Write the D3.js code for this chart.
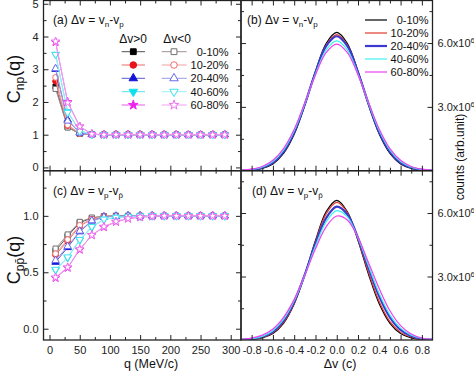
<!DOCTYPE html>
<html><head><meta charset="utf-8">
<script src="https://cdn.jsdelivr.net/npm/d3@7"></script>
<style>
body{margin:0;background:#fff;}
svg{display:block;font-family:"Liberation Sans",Arial,sans-serif;}
</style></head><body>
<svg id="c" width="474" height="371"></svg>
<script>
// ---------------- DATA ----------------
const qValues = [10,30,50,70,90,110,130,150,170,190,210,230,250,270,290];
const centralities = ["0-10%","10-20%","20-40%","40-60%","60-80%"];

// (a) C_np(q), dv>0 (filled) and dv<0 (open)
const cnpPos = [
  [2.47,1.23,1.03,1.01,1,1,1,1,1,1,1,1,1,1,1],
  [2.63,1.28,1.04,1.01,1,1,1,1,1,1,1,1,1,1,1],
  [3.00,1.45,1.06,1.01,1,1,1,1,1,1,1,1,1,1,1],
  [3.45,1.70,1.12,1.01,1,1,1,1,1,1,1,1,1,1,1],
  [3.83,2.00,1.25,1.02,1,1,1,1,1,1,1,1,1,1,1]
];
const cnpNeg = [
  [2.40,1.22,1.03,1.01,1,1,1,1,1,1,1,1,1,1,1],
  [2.75,1.30,1.04,1.01,1,1,1,1,1,1,1,1,1,1,1],
  [3.02,1.42,1.06,1.01,1,1,1,1,1,1,1,1,1,1,1],
  [3.45,1.68,1.11,1.01,1,1,1,1,1,1,1,1,1,1,1],
  [3.85,1.98,1.25,1.02,1,1,1,1,1,1,1,1,1,1,1]
];
// (c) C_ppbar(q)
const cppPos = [
  [0.690,0.820,0.940,0.980,0.995,1.000,1,1,1,1,1,1,1,1,1],
  [0.655,0.775,0.910,0.970,0.993,0.998,1,1,1,1,1,1,1,1,1],
  [0.590,0.720,0.860,0.955,0.990,0.997,1,1,1,1,1,1,1,1,1],
  [0.520,0.630,0.785,0.900,0.968,0.985,0.993,0.998,1,1,1,1,1,1,1],
  [0.450,0.540,0.700,0.830,0.900,0.947,0.975,0.988,0.995,1,1,1,1,1,1]
];
const cppNeg = [
  [0.710,0.835,0.947,0.985,0.997,1.000,1,1,1,1,1,1,1,1,1],
  [0.665,0.790,0.917,0.972,0.994,0.998,1,1,1,1,1,1,1,1,1],
  [0.605,0.730,0.865,0.957,0.990,0.997,1,1,1,1,1,1,1,1,1],
  [0.525,0.635,0.790,0.905,0.970,0.987,0.994,0.998,1,1,1,1,1,1,1],
  [0.455,0.545,0.705,0.830,0.905,0.950,0.977,0.990,0.996,1,1,1,1,1,1]
];

// (b),(d) counts in units of 10^6
const dvValues = [-0.9,-0.8,-0.7,-0.6,-0.5,-0.4,-0.3,-0.2,-0.1,0,0.1,0.2,0.3,0.4,0.5,0.6,0.7,0.8,0.9];
const countsNP = [
  [0.01,0.03,0.11,0.32,0.81,1.71,3.07,4.66,5.98,6.50,5.98,4.66,3.07,1.71,0.81,0.32,0.11,0.03,0.01],
  [0.01,0.04,0.13,0.36,0.87,1.78,3.11,4.65,5.91,6.40,5.91,4.65,3.11,1.78,0.87,0.36,0.13,0.04,0.01],
  [0.01,0.04,0.14,0.38,0.90,1.81,3.13,4.62,5.85,6.32,5.85,4.62,3.13,1.81,0.90,0.38,0.14,0.04,0.01],
  [0.02,0.06,0.17,0.43,0.97,1.88,3.15,4.55,5.67,6.10,5.67,4.55,3.15,1.88,0.97,0.43,0.17,0.06,0.02],
  [0.02,0.07,0.20,0.49,1.04,1.95,3.18,4.50,5.55,5.95,5.55,4.50,3.18,1.95,1.04,0.49,0.20,0.07,0.02]
];
const countsPPbar = [
  [0.01,0.03,0.10,0.31,0.79,1.70,3.08,4.70,6.06,6.60,6.06,4.70,3.08,1.70,0.79,0.31,0.10,0.03,0.01],
  [0.01,0.03,0.12,0.34,0.83,1.74,3.08,4.65,5.96,6.50,6.02,4.74,3.17,1.81,0.87,0.36,0.13,0.04,0.01],
  [0.01,0.05,0.15,0.40,0.92,1.82,3.10,4.55,5.76,6.30,5.93,4.82,3.38,2.05,1.07,0.48,0.19,0.06,0.02],
  [0.02,0.06,0.17,0.44,0.97,1.85,3.07,4.44,5.58,6.11,5.82,4.82,3.48,2.18,1.19,0.56,0.23,0.08,0.03],
  [0.03,0.09,0.23,0.52,1.07,1.92,3.07,4.31,5.35,5.86,5.67,4.84,3.64,2.42,1.38,0.68,0.28,0.09,0.03]
];

const qTicks = [0,50,100,150,200,250,300];
const qMinor = [25,75,125,175,225,275];
const dvTicks = [-0.8,-0.6,-0.4,-0.2,0,0.2,0.4,0.6,0.8];
const dvMinor = [-0.7,-0.5,-0.3,-0.1,0.1,0.3,0.5,0.7];
const cnpTicks = [0,1,2,3,4,5];
const cnpMinor = [0.5,1.5,2.5,3.5,4.5];
const cppTicks = [0,0.5,1.0];
const cppMinor = [0.25,0.75,1.25];
const countTicks = [3,6];
const countMinor = [1.5,4.5,7.5];

// ---------------- STYLE ----------------
const fillCol = ["#000000","#e8141a","#1515d8","#10e0ee","#ee22ee"];
const fillLine = ["#505050","#e86a6a","#5a5ac8","#50e4ee","#e85ae8"];
const openCol = ["#707070","#f06a6a","#6a6af0","#40e0f0","#f070f0"];
const openLine = ["#a09090","#f0a0a0","#9a9ae6","#98f0f6","#f0a0f0"];
const curveCol = ["#000000","#e03a30","#3a3ad0","#40f0f0","#f040f0"];
const curveW = [1.2,1.2,2.2,1.2,1.2];
const symTypes = [d3.symbolSquare,d3.symbolCircle,d3.symbolTriangle,d3.symbolTriangle,d3.symbolStar];
const symSize = [26,26,24,24,22];
const symRot = [0,0,0,180,0];

const svg = d3.select("#c");
const L=43.5, M=241, R=432.5, T=0.5, H=170.7, B=340;
const ink = "#222";

const xQ = d3.scaleLinear().domain([-10,317]).range([L,M]);
const xDv = d3.scaleLinear().domain([-0.9,0.9]).range([M,R]);
const yA = d3.scaleLinear().domain([-0.1,5.1]).range([H,T]);
const yC = d3.scaleLinear().domain([-0.1,1.4]).range([B,H]);
const yB = d3.scaleLinear().domain([0,8]).range([H,T]);
const yD = d3.scaleLinear().domain([0,8]).range([B,H]);

function axisPair(axisFn, scale, major, minor, transform, fmt, pad) {
  const gm = svg.append("g").attr("transform", transform)
    .call(axisFn(scale).tickValues(major).tickSize(-5).tickPadding(pad||5).tickFormat(fmt || (()=>"")));
  gm.select(".domain").remove();
  gm.attr("font-size", 11).attr("font-family", null).attr("color", ink);
  const gn = svg.append("g").attr("transform", transform)
    .call(axisFn(scale).tickValues(minor).tickSize(-3).tickFormat(()=>""));
  gn.select(".domain").remove();
  gn.attr("color", ink);
  return gm;
}

// ---- clip paths
const defs = svg.append("defs");
defs.append("clipPath").attr("id","clipB").append("rect").attr("x",M).attr("y",T).attr("width",R-M).attr("height",H-T);
defs.append("clipPath").attr("id","clipD").append("rect").attr("x",M).attr("y",H).attr("width",R-M).attr("height",B-H);

// ---- scatter panels
function drawScatter(posData, negData, yScale) {
  const line = d3.line().x((d,i)=>xQ(qValues[i])).y(d=>yScale(d));
  for (let s=0; s<5; s++) {
    [[posData[s], true],[negData[s], false]].forEach(([vals, filled]) => {
      const g = svg.append("g");
      g.append("path").attr("d", line(vals)).attr("fill","none")
        .attr("stroke", filled ? fillLine[s] : openLine[s]).attr("stroke-width",1);
      const sym = d3.symbol().type(symTypes[s]).size(symSize[s]);
      g.selectAll("path.m").data(vals).join("path").attr("class","m")
        .attr("d", sym)
        .attr("transform",(d,i)=>`translate(${xQ(qValues[i])},${yScale(d)}) rotate(${symRot[s]})`)
        .attr("fill", filled ? fillCol[s] : "#fff")
        .attr("stroke", filled ? fillCol[s] : openCol[s])
        .attr("stroke-width", 1);
    });
  }
}
drawScatter(cnpPos, cnpNeg, yA);
drawScatter(cppPos, cppNeg, yC);

// ---- distribution panels
function drawCurves(data, yScale, clip) {
  const g = svg.append("g").attr("clip-path", `url(#${clip})`);
  const line = d3.line().x((d,i)=>xDv(dvValues[i])).y(d=>yScale(d)).curve(d3.curveCatmullRom.alpha(0.5));
  data.forEach((vals, s) => {
    g.append("path").attr("d", line(vals)).attr("fill","none")
      .attr("stroke", curveCol[s]).attr("stroke-width", curveW[s]);
  });
}
drawCurves(countsNP, yB, "clipB");
drawCurves(countsPPbar, yD, "clipD");

// ---- frames
[[L,T,M-L,H-T],[L,H,M-L,B-H],[M,T,R-M,H-T],[M,H,R-M,B-H]].forEach(r=>{
  svg.append("rect").attr("x",r[0]).attr("y",r[1]).attr("width",r[2]).attr("height",r[3])
    .attr("fill","none").attr("stroke",ink).attr("stroke-width",1.3);
});

// ---- axes / ticks
axisPair(d3.axisLeft, yA, cnpTicks, cnpMinor, `translate(${L},0)`, d=>String(d), 5);
axisPair(d3.axisRight, yA, cnpTicks, cnpMinor, `translate(${M},0)`);
axisPair(d3.axisBottom, xQ, qTicks, qMinor, `translate(0,${H})`);
axisPair(d3.axisTop, xQ, qTicks, qMinor, `translate(0,${T})`);
axisPair(d3.axisLeft, yC, cppTicks, cppMinor, `translate(${L},0)`, d=>d.toFixed(1), 5);
axisPair(d3.axisRight, yC, cppTicks, cppMinor, `translate(${M},0)`);
axisPair(d3.axisBottom, xQ, qTicks, qMinor, `translate(0,${B})`, d=>String(d), 6);
axisPair(d3.axisTop, xQ, qTicks, qMinor, `translate(0,${H})`);
axisPair(d3.axisLeft, yB, countTicks, countMinor, `translate(${M},0)`);
const rb = axisPair(d3.axisRight, yB, countTicks, countMinor, `translate(${R},0)`, d=>d, 5);
axisPair(d3.axisBottom, xDv, dvTicks, dvMinor, `translate(0,${H})`);
axisPair(d3.axisTop, xDv, dvTicks, dvMinor, `translate(0,${T})`);
axisPair(d3.axisLeft, yD, countTicks, countMinor, `translate(${M},0)`);
const rd = axisPair(d3.axisRight, yD, countTicks, countMinor, `translate(${R},0)`, d=>d, 5);
axisPair(d3.axisBottom, xDv, dvTicks, dvMinor, `translate(0,${B})`, d=>d.toFixed(1), 6);
axisPair(d3.axisTop, xDv, dvTicks, dvMinor, `translate(0,${H})`);

[rb, rd].forEach(g => {
  g.selectAll(".tick text").each(function(d){
    const t = d3.select(this); t.text(null);
    t.append("tspan").text(d.toFixed(1)+"x10");
    t.append("tspan").attr("dy","-0.45em").attr("font-size","8px").text("6");
  });
});

// ---- text helpers
function richText(x, y, parts, opts) {
  opts = opts || {};
  const t = svg.append("text").attr("x",x).attr("y",y)
    .attr("font-size", opts.size || 12).attr("fill","#111");
  if (opts.anchor) t.attr("text-anchor", opts.anchor);
  if (opts.transform) t.attr("transform", opts.transform).attr("x",0).attr("y",0);
  const subSize = opts.sub || 8, shift = opts.shift || 3;
  let cur = 0;
  parts.forEach(([txt, sub]) => {
    const target = sub ? shift : 0;
    const ts = t.append("tspan").text(txt).attr("dy", target - cur);
    if (sub) ts.attr("font-size", subSize);
    cur = target;
  });
  return t;
}

richText(53, 24, [["(a) \u0394v = v",0],["n",1],["-v",0],["p",1]]);
richText(247, 24, [["(b) \u0394v = v",0],["n",1],["-v",0],["p",1]]);
richText(53, 195, [["(c) \u0394v = v",0],["p",1],["-v",0],["p\u0304",1]]);
richText(252, 195, [["(d) \u0394v = v",0],["p",1],["-v",0],["p\u0304",1]]);

richText(0,0,[["C",0],["np",1],["(q)",0]],{size:18, sub:12, shift:4, anchor:"middle", transform:"translate(20,79) rotate(-90)"});
richText(0,0,[["C",0],["pp\u0304",1],["(q)",0]],{size:18, sub:12, shift:4, anchor:"middle", transform:"translate(20,260) rotate(-90)"});
svg.append("text").attr("transform","translate(464,157) rotate(-90)").attr("text-anchor","middle")
  .attr("font-size",12).attr("fill","#111").text("counts (arb.unit)");
svg.append("text").attr("x",151).attr("y",368).attr("text-anchor","middle").attr("font-size",12.5).attr("fill","#111").text("q (MeV/c)");
svg.append("text").attr("x",340).attr("y",368).attr("text-anchor","middle").attr("font-size",12.5).attr("fill","#111").text("\u0394v (c)");

// ---- legend (a)
svg.append("text").attr("x",133).attr("y",43).attr("text-anchor","middle").attr("font-size",12).attr("fill","#111").text("\u0394v>0");
svg.append("text").attr("x",177).attr("y",43).attr("text-anchor","middle").attr("font-size",12).attr("fill","#111").text("\u0394v<0");
const legA = [51.7,65,78.3,91.7,105];
centralities.forEach((c, s) => {
  const y = legA[s];
  [[121.7,145,133.3,true],[161.7,186.7,174,false]].forEach(([x1,x2,xm,filled]) => {
    svg.append("line").attr("x1",x1).attr("x2",x2).attr("y1",y).attr("y2",y)
      .attr("stroke", filled ? fillLine[s] : openLine[s]).attr("stroke-width",1);
    svg.append("path").attr("d", d3.symbol().type(symTypes[s]).size(symSize[s]*1.3)())
      .attr("transform",`translate(${xm},${y}) rotate(${symRot[s]})`)
      .attr("fill", filled ? fillCol[s] : "#fff")
      .attr("stroke", filled ? fillCol[s] : openCol[s]).attr("stroke-width",1);
  });
  svg.append("text").attr("x",228.5).attr("y",y+4).attr("text-anchor","end").attr("font-size",11).attr("fill","#111").text(c);
});

// ---- legend (b)
const legB = [20,33,46,59,72];
centralities.forEach((c, s) => {
  const y = legB[s];
  svg.append("line").attr("x1",365).attr("x2",387).attr("y1",y).attr("y2",y)
    .attr("stroke", curveCol[s]).attr("stroke-width", curveW[s]);
  svg.append("text").attr("x",428.5).attr("y",y+4).attr("text-anchor","end").attr("font-size",11).attr("fill","#111").text(c);
});
</script>
</body></html>
